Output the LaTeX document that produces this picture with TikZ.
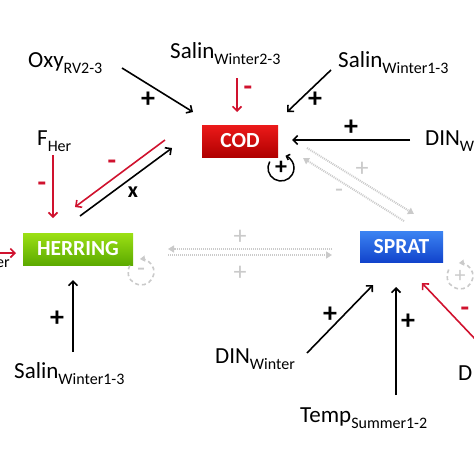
\documentclass[tikz,border=0pt]{standalone}
\usepackage{fontspec}
\setmainfont{Carlito}
\usetikzlibrary{arrows.meta}
\definecolor{myred}{HTML}{D0122E}
\definecolor{lgray}{HTML}{CACACA}
\definecolor{codtop}{HTML}{EC1A1A}
\definecolor{codbot}{HTML}{B00000}
\definecolor{hertop}{HTML}{9CE014}
\definecolor{herbot}{HTML}{5CAA00}
\definecolor{sprtop}{HTML}{3C84F2}
\definecolor{sprbot}{HTML}{1244CC}
\newcommand{\sbs}[1]{\raisebox{-6pt}{\fontsize{16}{16}\selectfont #1}}
\begin{document}
\begin{tikzpicture}[x=1pt,y=-1pt,
  lbl/.style={font=\fontsize{23}{25}\selectfont, inner sep=0pt, anchor=base west},
  sgn/.style={font=\fontsize{28}{28}\selectfont\bfseries, inner sep=0pt},
  rsgn/.style={sgn, text=myred},
  gsgn/.style={inner sep=0pt, text=lgray, font=\fontsize{26}{26}\selectfont},
  box/.style={rectangle, text=white, font=\fontsize{21.5}{21.5}\selectfont\bfseries, inner sep=0pt},
  blk/.style={draw=black, line width=1.6pt, -{Straight Barb[length=4.5pt,width=9pt]}},
  rd/.style={blk, draw=myred},
  gdot/.style={draw=lgray, line width=2pt, dash pattern=on 1pt off 1pt, -{Triangle[length=6pt,width=7pt]}},
  gloop/.style={draw=lgray, line width=1.6pt, dash pattern=on 4pt off 3pt, -{Triangle[length=5pt,width=6pt]}},
  bloop/.style={draw=black, line width=1.5pt, -{Straight Barb[length=3pt,width=6pt]}}
]
\useasboundingbox (0,0) rectangle (474,474);
\clip (0,0) rectangle (474,474);

% boxes
\node[box, top color=codtop, bottom color=codbot, minimum width=76pt, minimum height=32pt] (cod) at (240,141) {COD};
\node[box, top color=hertop, bottom color=herbot, minimum width=110pt, minimum height=32pt] (her) at (78,249) {HERRING};
\node[box, top color=sprtop, bottom color=sprbot, minimum width=83pt, minimum height=31pt] (spr) at (401.5,246.5) {SPRAT};

% labels
\node[lbl] (oxy) at (28,67) {Oxy\sbs{RV2-3}};
\node[lbl] (salwa) at (170,58) {Salin\sbs{Winter2-3}};
\node[lbl] (salwb) at (338,67) {Salin\sbs{Winter1-3}};
\node[lbl] (dinw) at (425,145) {DIN\sbs{Winter}};
\node[lbl] (fher) at (37,145) {F\sbs{Her}};
\node[lbl] (salb) at (14,378) {Salin\sbs{Winter1-3}};
\node[lbl] (dinwb) at (215,363) {DIN\sbs{Winter}};
\node[lbl] (temp) at (300,422) {Temp\sbs{Summer1-2}};
\node[lbl, font=\fontsize{16}{16}\selectfont] (er) at (-4,267) {er};
\node[lbl] (dcut) at (458,380) {DIN};

% connector end points
\coordinate (a1) at (122,68);  \coordinate (a2) at (193,112);
\coordinate (b1) at (237,78);  \coordinate (b2) at (237,112);
\coordinate (c1) at (331,70);  \coordinate (c2) at (287,112);
\coordinate (d1) at (410,140); \coordinate (d2) at (292,140);
\coordinate (e1) at (53,155);  \coordinate (e2) at (53,218);
\coordinate (f1) at (165,140); \coordinate (f2) at (75,207);
\coordinate (g1) at (80,216);  \coordinate (g2) at (172,148);
\coordinate (h1) at (0,253);   \coordinate (h2) at (16,253);
\coordinate (i1) at (73,352);  \coordinate (i2) at (73,280);
\coordinate (j1) at (332,249); \coordinate (j2) at (168,249);
\coordinate (k1) at (168,255); \coordinate (k2) at (332,255);
\coordinate (l1) at (307,148); \coordinate (l2) at (414,214);
\coordinate (m1) at (404,221); \coordinate (m2) at (303,158);
\coordinate (n1) at (476,340); \coordinate (n2) at (422,283);
\coordinate (o1) at (307,353); \coordinate (o2) at (373,285);
\coordinate (p1) at (396,395); \coordinate (p2) at (396,287);
\coordinate (codloop) at (281,168);
\coordinate (herloop) at (141,272);
\coordinate (sprloop) at (460,276);

% connectors
\draw[blk] (a1) -- (a2);
\draw[rd] (b1) -- (b2);
\draw[blk] (c1) -- (c2);
\draw[blk] (d1) -- (d2);
\draw[rd] (e1) -- (e2);
\draw[rd] (f1) -- (f2);
\draw[blk] (g1) -- (g2);
\draw[rd] (h1) -- (h2);
\draw[blk] (i1) -- (i2);
\draw[gdot] (j1) -- (j2);
\draw[gdot] (k1) -- (k2);
\draw[gdot] (l1) -- (l2);
\draw[gdot] (m1) -- (m2);
\draw[rd] (n1) -- (n2);
\draw[blk] (o1) -- (o2);
\draw[blk] (p1) -- (p2);

% loops
\draw[bloop] ([shift={(150:13pt)}]codloop) arc[start angle=150, end angle=430, radius=13pt];
\draw[gloop] ([shift={(150:13pt)}]herloop) arc[start angle=150, end angle=455, radius=13pt];
\draw[gloop] ([shift={(150:13pt)}]sprloop) arc[start angle=150, end angle=455, radius=13pt];
\node[sgn, font=\fontsize{24}{24}\selectfont\bfseries] at (codloop) {+};
\node[gsgn] at (herloop) {-};
\node[gsgn, font=\fontsize{22}{22}\selectfont] at (sprloop) {+};

% signs
\node[sgn] at (148,100) {+};
\node[rsgn] at (248,91) {-};
\node[sgn] at (315,100) {+};
\node[sgn] at (351,128) {+};
\node[rsgn] at (42,187) {-};
\node[rsgn] at (112,165) {-};
\node[sgn, font=\fontsize{22}{22}\selectfont\bfseries] at (133,192) {x};
\node[sgn] at (57,319) {+};
\node[gsgn] at (240,237) {+};
\node[gsgn] at (240,273) {+};
\node[gsgn] at (362,169) {+};
\node[gsgn] at (339,193) {-};
\node[rsgn] at (465,312) {-};
\node[sgn] at (330,315) {+};
\node[sgn] at (408,322) {+};
\end{tikzpicture}
\end{document}
